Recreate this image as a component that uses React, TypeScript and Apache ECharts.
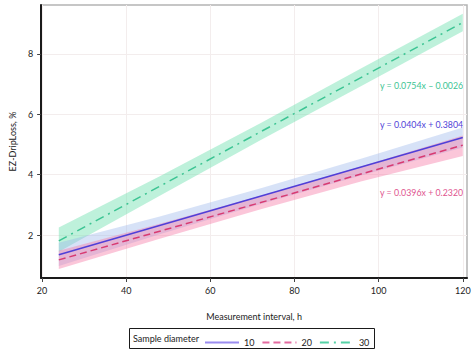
import React, { useEffect, useRef } from "react";
import * as echarts from "echarts";

// Data
const bandX = [24, 48, 72, 96, 120];
const fitX = [24, 120];

const fit10 = [1.35, 5.23];
const fit20 = [1.18, 4.98];
const fit30 = [1.81, 9.04];

const lower10 = [0.98, 2.03, 3.03, 3.98, 4.9];
const upper10 = [1.75, 2.62, 3.55, 4.54, 5.56];
const lower20 = [0.88, 1.88, 2.86, 3.78, 4.62];
const upper20 = [1.48, 2.38, 3.3, 4.28, 5.3];
const lower30 = [1.45, 3.3, 5.15, 6.95, 8.75];
const upper30 = [2.25, 3.95, 5.71, 7.53, 9.33];

const xTicks = [20, 40, 60, 80, 100, 120];
const yTicks = [2, 4, 6, 8];

const seriesNames = ["10", "20", "30"];
const equations = ["y = 0.0754x – 0.0026", "y = 0.0404x + 0.3804", "y = 0.0396x + 0.2320"];

const FONT = "Lato";

const pairs = (xs: number[], ys: number[]) => xs.map((x, i) => [x, ys[i]]);

function bandSeries(id: string, lower: number[], upper: number[], color: string) {
  return {
    name: id,
    type: "custom",
    silent: true,
    clip: true,
    z: 1,
    data: [[bandX[0], lower[0]]],
    renderItem: (_params: any, api: any) => {
      const top = bandX.map((x, i) => api.coord([x, upper[i]]));
      const bottom = bandX.map((x, i) => api.coord([x, lower[i]])).reverse();
      return {
        type: "polygon",
        shape: { points: top.concat(bottom) },
        style: { fill: color },
      };
    },
  };
}

export default function App() {
  const ref = useRef<HTMLDivElement>(null);
  useEffect(() => {
    document.body.style.margin = "0";
    const chart = echarts.init(ref.current!, null, { renderer: "svg" });
    const c10 = "#4f3fd8";
    const c20 = "#d83a72";
    const c30 = "#3cc493";
    chart.setOption({
      animation: false,
      textStyle: { fontFamily: FONT },
      grid: {
        left: 36,
        right: 7,
        top: 5,
        bottom: 78,
        show: true,
        borderColor: "#b4b4b4",
        borderWidth: 1.5,
      },
      xAxis: {
        type: "value",
        min: 19.8,
        max: 121,
        name: "Measurement interval, h",
        nameLocation: "middle",
        nameGap: 34,
        nameTextStyle: { fontSize: 9, color: "#222", fontFamily: FONT },
        axisLine: { show: true, lineStyle: { color: "#1a1a1a", width: 2 } },
        axisTick: { show: true, length: 4, customValues: xTicks, lineStyle: { color: "#444" } },
        axisLabel: { customValues: xTicks, fontSize: 9, color: "#222", margin: 8, fontFamily: FONT },
        splitLine: { show: true, lineStyle: { color: "#f3eded", width: 1 } },
      },
      yAxis: {
        type: "value",
        min: 0.58,
        max: 9.62,
        name: "EZ-DripLoss, %",
        nameLocation: "middle",
        nameGap: 22,
        nameTextStyle: { fontSize: 9, color: "#222", fontFamily: FONT },
        axisLine: { show: true, lineStyle: { color: "#1a1a1a", width: 2 } },
        axisTick: { show: true, length: 4, customValues: yTicks, lineStyle: { color: "#444" } },
        axisLabel: { customValues: yTicks, fontSize: 9, color: "#222", margin: 8, fontFamily: FONT },
        splitLine: { show: true, lineStyle: { color: "#f3eded", width: 1 } },
      },
      legend: {
        left: 199,
        top: 333,
        itemWidth: 34,
        itemHeight: 10,
        itemGap: 7,
        itemStyle: { opacity: 0 },
        textStyle: { fontSize: 9, color: "#222", fontFamily: FONT },
        data: [
          { name: seriesNames[0], lineStyle: { color: "#9a8cef" } },
          { name: seriesNames[1], lineStyle: { color: "#e36aa0" } },
          { name: seriesNames[2], lineStyle: { color: "#55d2a6" } },
        ],
      },
      graphic: [
        {
          type: "rect",
          shape: { x: 129.5, y: 328.5, width: 245, height: 20 },
          style: { fill: "none", stroke: "#1a1a1a", lineWidth: 1 },
        },
        {
          type: "text",
          x: 133,
          y: 338,
          style: { text: "Sample diameter", fontSize: 9, fontFamily: FONT, fill: "#222", verticalAlign: "middle" },
        },
        {
          type: "text",
          x: 380,
          y: 85,
          style: { text: equations[0], fontSize: 8.8, fontFamily: FONT, fill: c30, verticalAlign: "middle" },
        },
        {
          type: "text",
          x: 380,
          y: 124,
          style: { text: equations[1], fontSize: 8.8, fontFamily: FONT, fill: c10, verticalAlign: "middle" },
        },
        {
          type: "text",
          x: 380,
          y: 192,
          style: { text: equations[2], fontSize: 8.8, fontFamily: FONT, fill: "#e05590", verticalAlign: "middle" },
        },
      ],
      series: [
        bandSeries("b30", lower30, upper30, "rgba(110,225,175,0.45)"),
        bandSeries("b10", lower10, upper10, "rgba(150,180,235,0.38)"),
        bandSeries("b20", lower20, upper20, "rgba(245,120,165,0.42)"),
        {
          name: seriesNames[0],
          type: "line",
          data: pairs(fitX, fit10),
          symbol: "none",
          lineStyle: { color: c10, width: 1.5, type: "solid" },
          itemStyle: { color: c10 },
          z: 3,
        },
        {
          name: seriesNames[1],
          type: "line",
          data: pairs(fitX, fit20),
          symbol: "none",
          lineStyle: { color: c20, width: 1.5, type: [7, 4] },
          itemStyle: { color: c20 },
          z: 3,
        },
        {
          name: seriesNames[2],
          type: "line",
          data: pairs(fitX, fit30),
          symbol: "none",
          lineStyle: { color: c30, width: 1.5, type: [9, 5, 2, 5] },
          itemStyle: { color: c30 },
          z: 3,
        },
      ],
    });
    return () => chart.dispose();
  }, []);
  return (
    <div
      ref={ref}
      style={{ position: "absolute", left: 0, top: 0, width: 474, height: 356, background: "#fff" }}
    />
  );
}
